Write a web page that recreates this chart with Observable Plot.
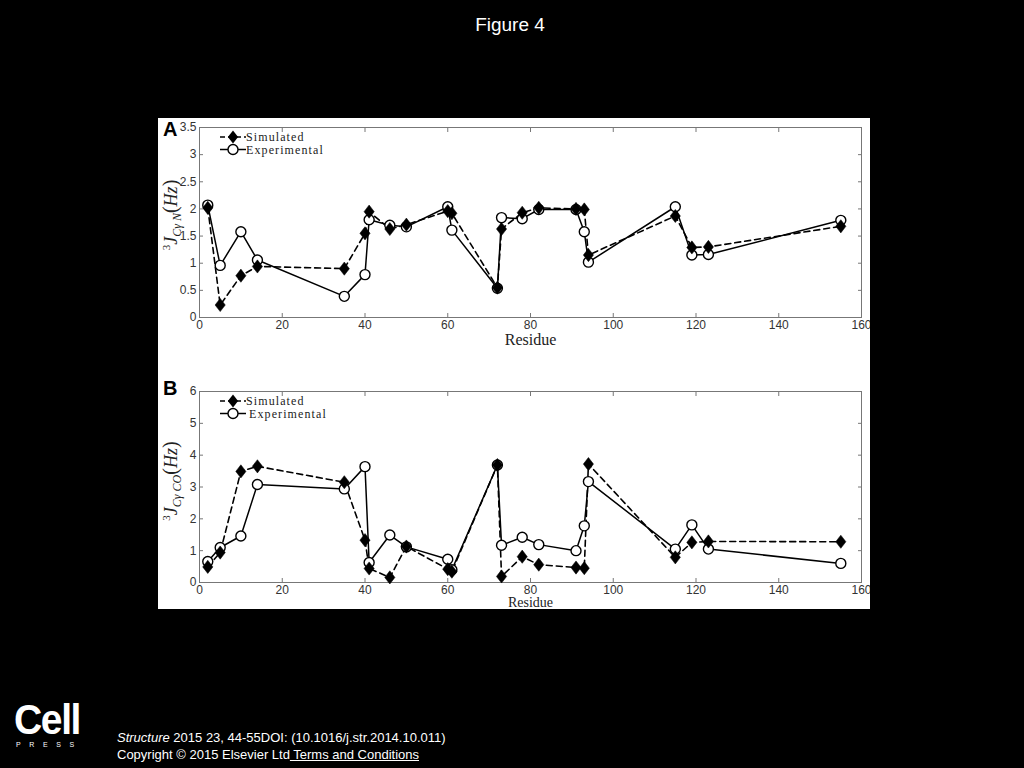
<!DOCTYPE html>
<html><head><meta charset="utf-8">
<script src="https://cdn.jsdelivr.net/npm/d3@7"></script>
<script src="https://cdn.jsdelivr.net/npm/@observablehq/plot@0.6"></script>
<style>
html,body{margin:0;padding:0;background:#000;}
#page{position:relative;width:1024px;height:768px;background:#000;overflow:hidden;font-family:"Liberation Sans",Arial,sans-serif;}
#title{position:absolute;left:0;width:1020px;top:14px;text-align:center;color:#fff;font-size:19px;}
#panel{position:absolute;left:158px;top:118px;width:712px;height:491px;background:#fff;overflow:hidden;}
.plot{position:absolute;left:0;}
.letter{position:absolute;left:5px;font-weight:bold;font-size:20px;color:#000;font-family:"Liberation Sans",Arial,sans-serif;}
.ylab{position:absolute;transform:translate(-50%,-50%) rotate(-90deg);font-family:"Liberation Serif",serif;font-size:18px;white-space:nowrap;color:#222;}
.ylab sub{font-size:12px;vertical-align:-4px;font-style:italic;}
.ylab sup{font-size:11px;vertical-align:7px;}
.ylab .p{font-size:20px;}
#legend{position:absolute;left:0;top:0;}
#cell{position:absolute;left:14px;top:702px;color:#fff;font-weight:bold;font-size:42px;line-height:36px;letter-spacing:-1.5px;transform:scaleX(0.93);transform-origin:left top;}
#press{position:absolute;left:16px;top:741px;color:#fff;font-size:7px;line-height:8px;letter-spacing:8.6px;}
#cite{position:absolute;left:117px;top:729px;color:#fff;font-size:13px;line-height:17px;}
#cite a{color:#fff;text-decoration:underline;}
</style></head>
<body>
<div id="page">
  <div id="title">Figure 4</div>
  <div id="panel">
    <div id="plotA" class="plot" style="top:0px"></div>
    <div id="plotB" class="plot" style="top:255px"></div>
    <div class="letter" style="top:0px">A</div>
    <div class="letter" style="top:259px">B</div>
    <div class="ylab" style="left:14px;top:97px"><sup>3</sup><i>J</i><sub>Cγ N</sub><span class="p">(</span><i>Hz</i><span class="p">)</span></div>
    <div class="ylab" style="left:14px;top:363px"><sup>3</sup><i>J</i><sub>Cγ CO</sub><span class="p">(</span><i>Hz</i><span class="p">)</span></div>
    <svg id="legend" width="712" height="491"></svg>
  </div>
  <div id="cell">Cell</div>
  <div id="press">PRESS</div>
  <div id="cite"><i>Structure</i> 2015 23, 44-55DOI: (10.1016/j.str.2014.10.011)<br>Copyright © 2015 Elsevier Ltd<a> Terms and Conditions</a></div>
</div>
<script>
// Data
const residues = [2,5,10,14,35,40,41,46,50,60,61,72,73,78,82,91,93,94,115,119,123,155];
const simA = [2.02,0.23,0.77,0.94,0.90,1.55,1.95,1.63,1.71,1.96,1.92,0.55,1.63,1.93,2.02,2.00,1.99,1.15,1.87,1.29,1.30,1.68];
const expA = [2.07,0.96,1.58,1.06,0.39,0.79,1.80,1.70,1.67,2.04,1.61,0.54,1.84,1.82,1.99,1.99,1.58,1.02,2.04,1.15,1.16,1.79];
const simB = [0.49,0.94,3.49,3.65,3.15,1.33,0.44,0.16,1.13,0.42,0.34,3.69,0.19,0.81,0.56,0.47,0.45,3.72,0.79,1.26,1.29,1.28];
const expB = [0.66,1.10,1.46,3.08,2.94,3.64,0.63,1.49,1.12,0.73,0.40,3.69,1.17,1.42,1.19,1.00,1.78,3.17,1.05,1.81,1.05,0.60];
const xTicks = [0,20,40,60,80,100,120,140,160];
const yTicksA = [0,0.5,1,1.5,2,2.5,3,3.5];
const yTicksB = [0,1,2,3,4,5,6];
const legendLabels = ["Simulated","Experimental"];

const diamond = {
  draw(context, size) {
    const r = Math.sqrt(size / Math.PI);
    const h = r * 1.1, w = r * 0.85;
    context.moveTo(0, -h); context.lineTo(w, 0); context.lineTo(0, h); context.lineTo(-w, 0); context.closePath();
  }
};

function panel(sim, exp, yDomain, yTicks, opts) {
  const rows = residues.map((r, i) => ({residue: r, sim: sim[i], exp: exp[i]}));
  return Plot.plot({
    width: 712, height: opts.height,
    marginLeft: 41, marginRight: 9, marginTop: opts.mt, marginBottom: opts.mb,
    style: {background: "transparent", fontFamily: "'Liberation Sans', Arial, sans-serif", fontSize: "12px", color: "#333", overflow: "visible"},
    x: {domain: [0,160]},
    y: {domain: yDomain},
    marks: [
      Plot.frame({stroke: "#777", strokeWidth: 1}),
      Plot.axisX(xTicks, {anchor: "bottom", tickSize: -4, tickPadding: 7, label: null, tickFormat: d => String(d), stroke: "#777"}),
      Plot.axisX(xTicks, {anchor: "top", tickSize: -4, label: null, tickFormat: () => "", stroke: "#777"}),
      Plot.axisY(yTicks, {anchor: "left", tickSize: -4, tickPadding: 7, label: null, tickFormat: d => String(d), stroke: "#777"}),
      Plot.axisY(yTicks, {anchor: "right", tickSize: -4, label: null, tickFormat: () => "", stroke: "#777"}),
      Plot.line(rows, {x: "residue", y: "exp", stroke: "#000", strokeWidth: 1.5}),
      Plot.line(rows, {x: "residue", y: "sim", stroke: "#000", strokeWidth: 1.6, strokeDasharray: "6,4"}),
      Plot.dot(rows, {x: "residue", y: "exp", r: 5, stroke: "#000", strokeWidth: 1.4, fill: "#fff"}),
      Plot.dot(rows, {x: "residue", y: "sim", r: 6, symbol: diamond, fill: "#000", stroke: "#000", strokeWidth: 0.5}),
      Plot.text(["Residue"], {frameAnchor: "bottom", dy: opts.labDy, fontFamily: "'Liberation Serif', serif", fontSize: opts.labSize, fill: "#222", letterSpacing: 0.6, lineAnchor: "middle"})
    ]
  });
}

document.getElementById("plotA").appendChild(panel(simA, expA, [0,3.5], yTicksA, {height: 255, mt: 9, mb: 56, labDy: 22, labSize: 16}));
document.getElementById("plotB").appendChild(panel(simB, expB, [0,6], yTicksB, {height: 236, mt: 18, mb: 27, labDy: 20.5, labSize: 14}));

// Legends
const svg = d3.select("#legend");
function legend(y0, expIndent) {
  const g = svg.append("g");
  const rowsY = [y0, y0 + 12.5];
  g.append("line").attr("x1", 62).attr("x2", 88).attr("y1", rowsY[0]).attr("y2", rowsY[0]).attr("stroke", "#000").attr("stroke-width", 1.6).attr("stroke-dasharray", "5,3");
  g.append("path").attr("d", `M75,${rowsY[0]-6.6}L80.1,${rowsY[0]}L75,${rowsY[0]+6.6}L69.9,${rowsY[0]}Z`).attr("fill", "#000");
  g.append("text").attr("x", 88).attr("y", rowsY[0]).attr("dy", "0.35em").text(legendLabels[0]);
  g.append("line").attr("x1", 62).attr("x2", 88).attr("y1", rowsY[1]).attr("y2", rowsY[1]).attr("stroke", "#000").attr("stroke-width", 1.5);
  g.append("circle").attr("cx", 75).attr("cy", rowsY[1]).attr("r", 5).attr("fill", "#fff").attr("stroke", "#000").attr("stroke-width", 1.4);
  g.append("text").attr("x", 88 + expIndent).attr("y", rowsY[1]).attr("dy", "0.35em").text(legendLabels[1]);
  g.selectAll("text").attr("font-family", "'Liberation Serif', serif").attr("font-size", 12).attr("letter-spacing", 1.1).attr("fill", "#222");
}
legend(19, 0);
legend(283, 3);
</script>
</body></html>
